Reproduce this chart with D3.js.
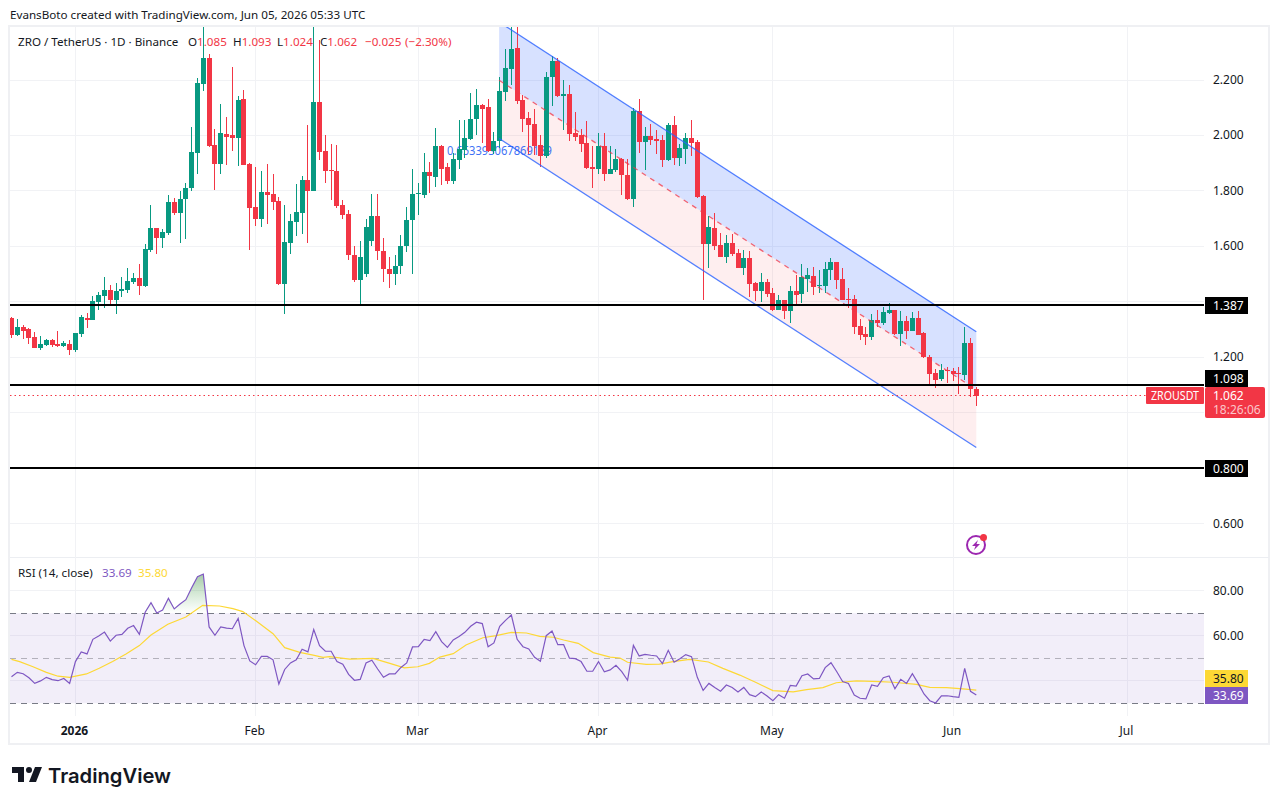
<!DOCTYPE html>
<html>
<head>
<meta charset="utf-8">
<title>ZRO / TetherUS</title>
<script src="https://cdnjs.cloudflare.com/ajax/libs/d3/7.8.5/d3.min.js"></script>
<style>
html,body{margin:0;padding:0;background:#fff;overflow:hidden}
svg{display:block}
text{font-family:"Noto Sans",sans-serif;font-size:12px;fill:#131722}
text.small{font-size:11.65px}
</style>
</head>
<body>
<svg id="chart" width="1280" height="805"></svg>
<script>
// Daily candles, first session 2025-12-21
const opens = [
1.341,1.282,1.309,1.302,1.273,1.234,1.244,1.262,1.248,1.241,
1.248,1.226,1.284,1.342,1.335,1.400,1.421,1.443,1.407,1.439,
1.443,1.472,1.486,1.457,1.587,1.666,1.630,1.648,1.760,1.720,
1.771,1.811,1.937,2.186,2.279,1.966,1.897,2.005,2.002,1.991,
2.131,1.897,1.743,1.699,1.796,1.789,1.764,1.464,1.612,1.688,
1.720,1.839,1.800,2.121,1.944,1.875,1.872,1.749,1.716,1.570,
1.480,1.500,1.620,1.709,1.585,1.520,1.500,1.530,1.600,1.695,
1.790,1.785,1.868,1.850,1.962,1.886,1.836,1.911,1.948,1.987,
2.059,2.110,2.103,1.944,1.980,2.157,2.240,2.315,2.128,2.063,
2.041,1.966,1.926,2.211,2.269,2.142,2.149,2.009,2.002,1.973,
1.886,1.879,1.962,1.861,1.875,1.915,1.857,1.771,2.088,1.976,
1.998,1.987,1.984,1.911,2.038,1.919,1.951,1.991,1.976,1.782,
1.609,1.666,1.605,1.562,1.612,1.576,1.522,1.558,1.468,1.439,
1.472,1.432,1.371,1.407,1.367,1.439,1.428,1.482,1.493,1.458,
1.457,1.515,1.544,1.482,1.410,1.410,1.313,1.284,1.273,1.334,
1.324,1.360,1.371,1.284,1.331,1.295,1.342,1.288,1.201,1.143,
1.122,1.154,1.151,1.143,1.136,1.251,1.085];
const highs = [
1.347,1.338,1.316,1.306,1.291,1.277,1.266,1.266,1.295,1.259,
1.262,1.288,1.353,1.360,1.421,1.436,1.490,1.461,1.468,1.490,
1.522,1.504,1.537,1.608,1.749,1.666,1.663,1.785,1.774,1.800,
1.830,2.030,2.207,2.420,2.294,2.023,2.113,2.067,2.247,2.142,
2.164,1.900,1.886,1.872,1.897,1.861,1.778,1.749,1.717,1.825,
1.854,2.038,2.420,2.344,2.002,1.969,1.966,1.767,1.730,1.600,
1.620,1.700,1.789,1.789,1.630,1.560,1.570,1.640,1.743,1.879,
1.827,1.937,1.904,2.027,1.966,1.899,1.937,2.056,2.056,2.153,
2.168,2.113,2.131,2.014,2.211,2.312,2.420,2.420,2.146,2.085,
2.095,2.002,2.229,2.287,2.281,2.200,2.182,2.085,2.023,2.052,
1.962,2.009,2.009,1.962,1.950,1.917,1.915,2.098,2.131,2.030,
2.041,2.020,2.002,2.045,2.070,1.969,2.009,2.056,1.984,1.785,
1.709,1.720,1.648,1.641,1.645,1.590,1.587,1.583,1.472,1.504,
1.482,1.450,1.425,1.407,1.457,1.497,1.536,1.522,1.526,1.515,
1.544,1.558,1.544,1.522,1.450,1.425,1.338,1.309,1.356,1.371,
1.381,1.396,1.371,1.367,1.349,1.363,1.367,1.291,1.208,1.158,
1.176,1.165,1.161,1.165,1.309,1.270,1.093];
const lows = [
1.271,1.277,1.267,1.249,1.234,1.226,1.242,1.237,1.237,1.237,
1.208,1.219,1.273,1.306,1.335,1.371,1.378,1.385,1.356,1.417,
1.432,1.464,1.425,1.454,1.580,1.573,1.594,1.641,1.713,1.612,
1.627,1.800,1.861,2.161,1.958,1.803,1.861,1.893,1.944,1.890,
1.893,1.587,1.674,1.670,1.681,1.731,1.461,1.356,1.572,1.637,
1.645,1.612,1.800,1.912,1.829,1.767,1.738,1.700,1.550,1.470,
1.390,1.490,1.600,1.550,1.470,1.450,1.460,1.500,1.580,1.500,
1.713,1.774,1.792,1.814,1.821,1.825,1.825,1.879,1.919,1.984,
2.002,1.973,1.940,1.932,1.956,2.125,2.182,2.113,2.012,1.933,
1.930,1.886,1.919,2.106,2.139,2.020,1.980,1.980,1.940,1.878,
1.810,1.861,1.836,1.861,1.870,1.785,1.767,1.742,1.937,1.875,
1.966,1.933,1.886,1.908,1.893,1.890,1.897,1.926,1.774,1.407,
1.522,1.587,1.562,1.540,1.565,1.522,1.497,1.417,1.403,1.399,
1.417,1.367,1.371,1.338,1.324,1.392,1.396,1.435,1.425,1.432,
1.432,1.479,1.446,1.407,1.378,1.284,1.262,1.244,1.262,1.309,
1.316,1.356,1.280,1.241,1.266,1.295,1.280,1.197,1.104,1.089,
1.114,1.107,1.114,1.068,1.118,1.057,1.024];
const closes = [
1.282,1.309,1.295,1.270,1.234,1.248,1.262,1.244,1.241,1.252,
1.226,1.288,1.345,1.335,1.403,1.425,1.443,1.407,1.439,1.448,
1.475,1.486,1.457,1.590,1.666,1.630,1.652,1.760,1.720,1.771,
1.811,1.940,2.189,2.279,1.962,1.897,2.009,1.994,1.991,2.128,
1.893,1.738,1.699,1.796,1.785,1.760,1.464,1.616,1.691,1.724,
1.839,1.800,2.121,1.940,1.872,1.872,1.746,1.713,1.570,1.480,
1.560,1.670,1.709,1.585,1.520,1.500,1.530,1.600,1.695,1.789,
1.792,1.868,1.854,1.962,1.879,1.836,1.915,1.951,1.991,2.059,
2.110,2.095,1.944,1.980,2.160,2.243,2.312,2.124,2.059,2.038,
1.962,1.926,2.211,2.269,2.142,2.149,2.005,1.994,1.969,1.883,
1.879,1.962,1.861,1.879,1.915,1.857,1.771,2.088,1.976,1.998,
1.984,1.980,1.911,2.038,1.919,1.955,1.991,1.973,1.778,1.609,
1.670,1.601,1.562,1.612,1.572,1.522,1.558,1.464,1.439,1.472,
1.428,1.371,1.407,1.367,1.439,1.425,1.490,1.497,1.453,1.461,
1.518,1.544,1.479,1.407,1.408,1.309,1.280,1.273,1.334,1.324,
1.363,1.371,1.284,1.331,1.295,1.342,1.280,1.201,1.140,1.118,
1.154,1.151,1.140,1.140,1.251,1.086,1.062];

// RSI (14, close), one reading per session
const rsiValues = [
41.8,43.7,43.1,41.3,38.8,39.9,41.5,40.5,40.0,41.0,
38.8,48.5,52.8,51.9,58.4,59.9,61.6,57.6,60.2,60.6,
63.3,64.5,60.6,70.4,74.7,70.1,71.4,76.6,71.9,74.1,
76.0,81.3,86.2,87.4,63.9,60.2,63.9,63.4,63.1,67.7,
55.6,48.8,47.1,50.8,50.8,49.3,38.5,45.0,47.9,49.3,
54.0,52.8,62.7,55.6,53.1,53.1,48.5,47.3,42.8,40.2,
40.6,47.9,49.1,45.2,41.5,43.0,43.0,45.9,47.9,55.0,
55.1,58.4,57.8,61.8,57.4,54.8,58.1,59.6,61.5,64.2,
66.0,65.4,55.1,56.8,64.2,66.8,69.2,58.4,55.1,54.1,
50.4,48.6,60.0,62.1,56.0,56.0,50.0,49.8,48.5,44.2,
44.2,48.5,44.0,44.8,46.8,44.0,40.2,55.7,51.0,51.7,
51.3,51.0,47.6,53.5,48.2,49.8,51.6,50.7,41.5,35.7,
38.8,37.0,35.3,38.1,37.0,35.0,37.0,33.8,32.9,35.0,
33.2,31.1,33.8,32.2,37.9,37.6,42.2,43.0,40.8,41.0,
45.8,48.0,44.0,39.6,38.8,33.6,32.2,31.9,38.1,37.5,
41.3,42.1,36.4,40.6,38.8,43.1,38.8,34.1,31.1,30.1,
33.3,33.3,32.9,32.6,45.5,35.3,33.69];

// RSI moving average, read at these session numbers
const rsiMaSessions = [
0,1.4,3.7,6,8,10,12.9,15.1,17.4,19.7,22,24,26.9,30,32.9,35.8,38.1,39.8,42.1,45,47,49.6,51.9,53.6,
54.7,58.2,62.2,65.1,67.6,69.9,71.9,73.7,76,78.2,81.1,83.4,86,88.6,90.9,93.2,95,97.5,100.1,103,104.7,106,109.2,
111.5,113.8,116.7,119.9,122.4,125.3,128.2,131,134.5,136.8,139.6,141.9,145.4,149.4,151.7,155.7,158,160.9,163.7,166];
const rsiMaValues = [
49.5,48.5,46.2,43.7,42.0,41.5,43.0,45.5,48.5,51.9,55.6,60.3,65.1,68.3,73.5,73.2,72.0,70.7,66.5,60.9,54.7,52.6,51.4,50.4,
50.7,49.6,49.9,47.7,45.7,46.2,47.7,50.5,52.0,55.9,59.1,60.0,61.5,61.2,59.7,59.3,58.1,56.6,52.5,50.5,50.1,48.2,47.3,
47.4,48.5,49.5,48.3,45.5,42.5,39.1,35.6,35.0,36.0,36.9,39.1,39.9,39.6,39.3,38.4,37.0,36.9,36.4,35.8];

const priceTicks = [2.2, 2.0, 1.8, 1.6, 1.4, 1.2, 1.0, 0.8, 0.6];
const hiddenPriceLabels = [1.4, 1.0, 0.8];
const levelPrices = [1.387, 1.098, 0.8];
const rsiTicks = [80, 60, 40];
const rsiBands = [70, 50, 30];
const monthDates = ["2026-01-01","2026-02-01","2026-03-01","2026-04-01","2026-05-01","2026-06-01","2026-07-01"];
const monthLabels = ["2026","Feb","Mar","Apr","May","Jun","Jul"];

// Regression channel: start session, end session and price at each end
const channelSessions = [83.9, 166];
const channelUpper = [2.409, 1.292];
const channelLower = [1.989, 0.875];
const channelNote = "0.653393067869189";

const UP = "#089981", DOWN = "#f23645", GRID = "#f1f2f5", PURPLE = "#7e57c2", YELLOW = "#fdd835", BLUE = "#2962ff";

const L = 10, R = 1204, FR = 1269, TOP = 27, PANE = 557, AXB = 716, BOT = 744, TAG_TOP = 387;
const svg = d3.select("#chart");
const DAY = 864e5, T0 = Date.UTC(2025, 11, 21);
const dateOf = s => new Date(T0 + s * DAY);
const x = d3.scaleUtc().domain([dateOf(0), dateOf(166)]).range([11.5, 976.3]);
const y = d3.scaleLinear().domain([2.2, 0.6]).range([80, 523.7]);
const ry = d3.scaleLinear().domain([60, 30]).range([635.7, 703.2]);
const months = monthDates.map(d => new Date(d + "T00:00:00Z"));

// Frame and grid
svg.append("rect").attr("x", L - 1).attr("y", TOP - 1).attr("width", FR - L + 1).attr("height", BOT - TOP + 1)
  .attr("fill", "#fff").attr("stroke", "#eff0f3").attr("stroke-width", 2);
svg.append("line").attr("x1", L).attr("x2", FR).attr("y1", PANE + .5).attr("y2", PANE + .5).attr("stroke", "#eceef2");

const grid = svg.append("g").attr("stroke", GRID).attr("shape-rendering", "crispEdges");
grid.selectAll(".v").data(months).join("line").attr("class", "v")
  .attr("x1", d => Math.floor(x(d)) + .5).attr("x2", d => Math.floor(x(d)) + .5).attr("y1", TOP).attr("y2", AXB);
grid.selectAll(".h").data(priceTicks).join("line").attr("class", "h")
  .attr("x1", L).attr("x2", R).attr("y1", d => Math.floor(y(d)) + .5).attr("y2", d => Math.floor(y(d)) + .5);

const defs = svg.append("defs");
defs.append("clipPath").attr("id", "pricePane").append("rect").attr("x", L).attr("y", TOP).attr("width", R - L).attr("height", PANE - TOP);
defs.append("clipPath").attr("id", "overBought").append("rect").attr("x", L).attr("y", PANE).attr("width", R - L).attr("height", ry(70) - PANE);
const grad = defs.append("linearGradient").attr("id", "obFill").attr("gradientUnits", "userSpaceOnUse")
  .attr("x1", 0).attr("x2", 0).attr("y1", ry(90)).attr("y2", ry(70));
grad.append("stop").attr("offset", 0).attr("stop-color", "#2e7d32").attr("stop-opacity", .5);
grad.append("stop").attr("offset", 1).attr("stop-color", "#4caf50").attr("stop-opacity", 0);

// Price pane
const price = svg.append("g").attr("clip-path", "url(#pricePane)");
const [a, b] = channelSessions.map(s => x(dateOf(s)));
const mid = [0, 1].map(i => (channelUpper[i] + channelLower[i]) / 2);
const poly = (p, q) => [[a, y(p[0])], [b, y(p[1])], [b, y(q[1])], [a, y(q[0])]];
price.append("polygon").attr("points", poly(channelUpper, mid).join(" ")).attr("fill", BLUE).attr("fill-opacity", .19);
price.append("polygon").attr("points", poly(mid, channelLower).join(" ")).attr("fill", DOWN).attr("fill-opacity", .085);
price.append("text").attr("x", 447).attr("y", y(1.93)).style("fill", "#3f72f5")
  .attr("textLength", 105).attr("lengthAdjust", "spacingAndGlyphs").text(channelNote);

const sessions = d3.range(closes.length);
const cx = i => Math.floor(x(dateOf(i)));
const candle = price.append("g").selectAll("g").data(sessions).join("g")
  .attr("fill", i => closes[i] >= opens[i] ? UP : DOWN).attr("shape-rendering", "crispEdges");
candle.append("rect").attr("x", i => cx(i)).attr("width", 1)
  .attr("y", i => y(highs[i])).attr("height", i => y(lows[i]) - y(highs[i]));
candle.append("rect").attr("x", i => cx(i) - 2).attr("width", 5)
  .attr("y", i => y(Math.max(opens[i], closes[i])))
  .attr("height", i => Math.max(1, Math.abs(y(opens[i]) - y(closes[i]))));

const chanLine = (p, dash, color, op) => price.append("line")
  .attr("x1", a).attr("x2", b).attr("y1", y(p[0])).attr("y2", y(p[1]))
  .attr("stroke", color).attr("stroke-width", 1.3).attr("stroke-opacity", op).attr("stroke-dasharray", dash);
chanLine(channelUpper, null, BLUE, .8);
chanLine(channelLower, null, BLUE, .8);
chanLine(mid, "5 5", DOWN, .75);

// Last-price marker line
svg.append("line").attr("x1", L).attr("x2", 1146).attr("y1", Math.floor(y(closes[166])) + .5).attr("y2", Math.floor(y(closes[166])) + .5)
  .attr("stroke", DOWN).attr("stroke-dasharray", "1.5 3");

// Horizontal levels
svg.append("g").selectAll("line").data(levelPrices).join("line")
  .attr("x1", L).attr("x2", R).attr("y1", d => Math.floor(y(d))).attr("y2", d => Math.floor(y(d)))
  .attr("stroke", "#000").attr("stroke-width", 2);

// Price axis
const priceAxis = d3.axisRight(y).tickValues(priceTicks.filter(t => !hiddenPriceLabels.includes(t)))
  .tickFormat(d3.format(".3f")).tickSize(0).tickPadding(0).offset(0);
const pa = svg.append("g").attr("transform", `translate(1213,0)`).call(priceAxis);
pa.select(".domain").remove();
pa.selectAll("text").attr("x", 0).attr("fill", null).style("font-family", null).style("font-size", "12px");

// Level tags; a tag that would run into the last-price tag sits directly above it
levelPrices.forEach(v => {
  const centre = Math.round(y(v));
  const top = (centre + 9 > TAG_TOP && centre - 8 < TAG_TOP + 31) ? TAG_TOP - 17 : centre - 8;
  svg.append("rect").attr("x", 1205).attr("width", 43).attr("y", top).attr("height", 17).attr("fill", "#000");
  svg.append("text").attr("x", 1213).attr("y", top + 8.5).attr("dy", "0.36em").style("fill", "#fff").text(d3.format(".3f")(v));
});

// Last price tag
const last = closes[166];
svg.append("rect").attr("x", 1146).attr("y", TAG_TOP).attr("width", 58).attr("height", 17).attr("rx", 1).attr("fill", DOWN);
svg.append("text").attr("x", 1151).attr("y", TAG_TOP + 8.5).attr("dy", "0.36em").style("fill", "#fff")
  .attr("textLength", 48).attr("lengthAdjust", "spacingAndGlyphs").text("ZROUSDT");
svg.append("rect").attr("x", 1205).attr("y", TAG_TOP).attr("width", 60).attr("height", 31).attr("rx", 2).attr("fill", DOWN);
svg.append("text").attr("x", 1213).attr("y", TAG_TOP + 8.5).attr("dy", "0.36em").style("fill", "#fff").text(d3.format(".3f")(last));
svg.append("text").attr("x", 1213).attr("y", TAG_TOP + 23).attr("dy", "0.36em").style("fill", "#fbc5ca").text("18:26:06");

// RSI pane
const rsi = svg.append("g");
rsi.append("rect").attr("x", L).attr("width", R - L).attr("y", ry(70)).attr("height", ry(30) - ry(70))
  .attr("fill", PURPLE).attr("fill-opacity", .1);
rsi.append("g").attr("stroke", GRID).attr("shape-rendering", "crispEdges").selectAll("line").data(rsiTicks).join("line")
  .attr("x1", L).attr("x2", R).attr("y1", d => Math.floor(ry(d)) + .5).attr("y2", d => Math.floor(ry(d)) + .5)
  .attr("stroke", d => d === 80 ? GRID : "#e6e2f0");
rsi.append("g").selectAll("line").data(rsiBands).join("line")
  .attr("x1", L).attr("x2", R).attr("y1", d => Math.floor(ry(d)) + .5).attr("y2", d => Math.floor(ry(d)) + .5)
  .attr("stroke", d => d === 50 ? "#b3b1bb" : "#787b86").attr("stroke-dasharray", "6 5");

rsi.append("path").attr("clip-path", "url(#overBought)")
  .attr("d", d3.area().x(i => x(dateOf(i))).y0(ry(70)).y1(i => ry(rsiValues[i]))(sessions))
  .attr("fill", "url(#obFill)");
const maPoints = rsiMaSessions.map((s, i) => [x(dateOf(s)), ry(rsiMaValues[i])]);
rsi.append("path").attr("d", d3.line()(maPoints)).attr("fill", "none").attr("stroke", YELLOW).attr("stroke-width", 1.2);
rsi.append("path").attr("d", d3.line().x(i => x(dateOf(i))).y(i => ry(rsiValues[i]))(sessions))
  .attr("fill", "none").attr("stroke", PURPLE).attr("stroke-width", 1.2);

const rsiAxis = d3.axisRight(ry).tickValues([80, 60]).tickFormat(d3.format(".2f")).tickSize(0).tickPadding(0).offset(0);
const ra = svg.append("g").attr("transform", "translate(1213,0)").call(rsiAxis);
ra.select(".domain").remove();
ra.selectAll("text").attr("x", 0).attr("fill", null).style("font-family", null).style("font-size", "12px");

svg.append("rect").attr("x", 1205).attr("y", 670).attr("width", 43).attr("height", 17).attr("fill", YELLOW);
svg.append("text").attr("x", 1213).attr("y", 678.5).attr("dy", "0.36em").text("35.80");
svg.append("rect").attr("x", 1205).attr("y", 687).attr("width", 43).attr("height", 17).attr("fill", PURPLE);
svg.append("text").attr("x", 1213).attr("y", 695.5).attr("dy", "0.36em").style("fill", "#fff").text("33.69");

// Time axis
const timeAxis = d3.axisBottom(x).tickValues(months).tickFormat((d, i) => monthLabels[i]).tickSize(0).tickPadding(0).offset(0);
const ta = svg.append("g").attr("transform", "translate(-1,726)").call(timeAxis);
ta.select(".domain").remove();
ta.selectAll("text").attr("fill", null).attr("y", 0).attr("dy", "0.71em").style("font-family", null).style("font-size", "12px")
  .style("font-weight", (d, i) => i === 0 ? 700 : 400);

// Header and legends
svg.append("text").attr("class", "small").attr("x", 10).attr("y", 19).text("EvansBoto created with TradingView.com, Jun 05, 2026 05:33 UTC");
svg.append("text").attr("class", "small").attr("x", 18).attr("y", 46).text("ZRO / TetherUS · 1D · Binance");
const ohlc = [["O", opens[166], 188], ["H", highs[166], 233], ["L", lows[166], 277], ["C", closes[166], 320]];
ohlc.forEach(([k, v, px]) => {
  const t = svg.append("text").attr("class", "small").attr("x", px).attr("y", 46);
  t.append("tspan").text(k);
  t.append("tspan").style("fill", DOWN).text(d3.format(".3f")(v));
});
svg.append("text").attr("class", "small").attr("x", 365).attr("y", 46).style("fill", DOWN).text("−0.025");
svg.append("text").attr("class", "small").attr("x", 405).attr("y", 46).style("fill", DOWN).text("(−2.30%)");
svg.append("text").attr("class", "small").attr("x", 18).attr("y", 577).text("RSI (14, close)");
svg.append("text").attr("class", "small").attr("x", 102).attr("y", 577).style("fill", PURPLE).text("33.69");
svg.append("text").attr("class", "small").attr("x", 138).attr("y", 577).style("fill", YELLOW).text("35.80");

// Flash icon
const icon = svg.append("g").attr("transform", "translate(976,545)");
icon.append("circle").attr("r", 9).attr("fill", "#fff").attr("stroke", "#9c27b0").attr("stroke-width", 2);
icon.append("path").attr("d", "M2,-5L-4,1H-0.5L-2,5L4,-1H0.5Z").attr("fill", "#9c27b0");
icon.append("circle").attr("cx", 7.5).attr("cy", -7.5).attr("r", 3.5).attr("fill", DOWN);

// Brand mark
svg.append("path").attr("transform", "translate(10,761)").attr("fill", "#131722")
  .attr("d", "M14 6H2v6h6v9h6V6Zm12 15h-7l6-15h7l-6 15Zm-7-9a3 3 0 1 0 0-6 3 3 0 0 0 0 6Z");
svg.append("text").attr("x", 48).attr("y", 783).style("font-family", "Inter,sans-serif").style("font-size", "20.2px").style("font-weight", 600).text("TradingView");
</script>
</body>
</html>
